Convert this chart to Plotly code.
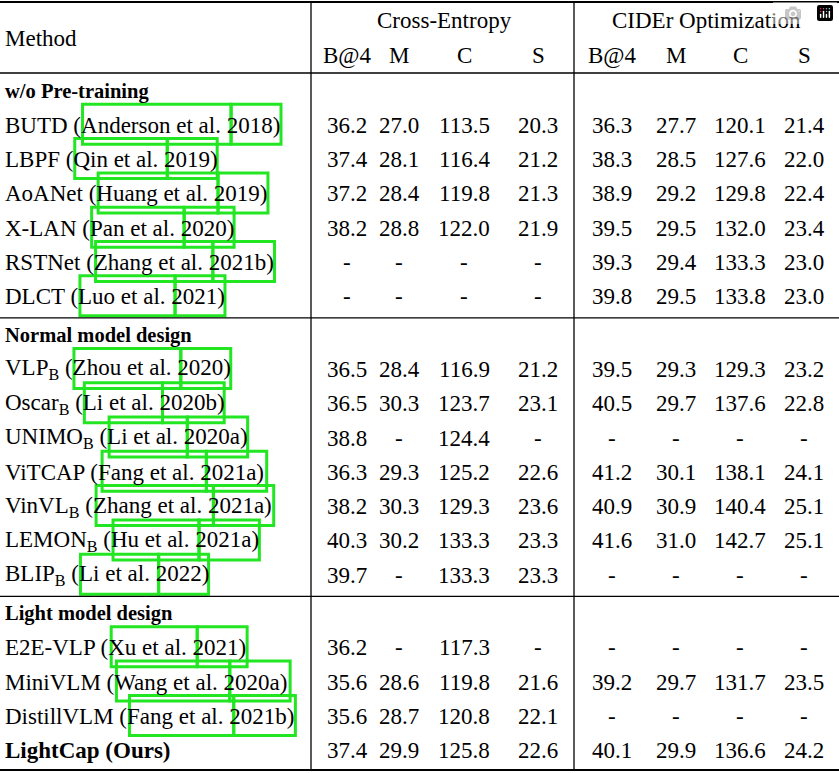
import plotly.graph_objects as go

groups = ["w/o Pre-training", "Normal model design", "Light model design"]
methods = [
    ["BUTD", "", "Anderson et al.", "2018"], ["LBPF", "", "Qin et al.", "2019"],
    ["AoANet", "", "Huang et al.", "2019"], ["X-LAN", "", "Pan et al.", "2020"],
    ["RSTNet", "", "Zhang et al.", "2021b"], ["DLCT", "", "Luo et al.", "2021"],
    ["VLP", "B", "Zhou et al.", "2020"], ["Oscar", "B", "Li et al.", "2020b"],
    ["UNIMO", "B", "Li et al.", "2020a"], ["ViTCAP", "", "Fang et al.", "2021a"],
    ["VinVL", "B", "Zhang et al.", "2021a"], ["LEMON", "B", "Hu et al.", "2021a"],
    ["BLIP", "B", "Li et al.", "2022"],
    ["E2E-VLP", "", "Xu et al.", "2021"], ["MiniVLM", "", "Wang et al.", "2020a"],
    ["DistillVLM", "", "Fang et al.", "2021b"],
]
group_sizes = [6, 7, 3]
ours = "LightCap (Ours)"
metrics = ["B@4", "M", "C", "S"]
sections = ["Cross-Entropy", "CIDEr Optimization"]
values = [
    ["36.2", "27.0", "113.5", "20.3", "36.3", "27.7", "120.1", "21.4"],
    ["37.4", "28.1", "116.4", "21.2", "38.3", "28.5", "127.6", "22.0"],
    ["37.2", "28.4", "119.8", "21.3", "38.9", "29.2", "129.8", "22.4"],
    ["38.2", "28.8", "122.0", "21.9", "39.5", "29.5", "132.0", "23.4"],
    ["-", "-", "-", "-", "39.3", "29.4", "133.3", "23.0"],
    ["-", "-", "-", "-", "39.8", "29.5", "133.8", "23.0"],
    ["36.5", "28.4", "116.9", "21.2", "39.5", "29.3", "129.3", "23.2"],
    ["36.5", "30.3", "123.7", "23.1", "40.5", "29.7", "137.6", "22.8"],
    ["38.8", "-", "124.4", "-", "-", "-", "-", "-"],
    ["36.3", "29.3", "125.2", "22.6", "41.2", "30.1", "138.1", "24.1"],
    ["38.2", "30.3", "129.3", "23.6", "40.9", "30.9", "140.4", "25.1"],
    ["40.3", "30.2", "133.3", "23.3", "41.6", "31.0", "142.7", "25.1"],
    ["39.7", "-", "133.3", "23.3", "-", "-", "-", "-"],
    ["36.2", "-", "117.3", "-", "-", "-", "-", "-"],
    ["35.6", "28.6", "119.8", "21.6", "39.2", "29.7", "131.7", "23.5"],
    ["35.6", "28.7", "120.8", "22.1", "-", "-", "-", "-"],
]
ours_values = ["37.4", "29.9", "125.8", "22.6", "40.1", "29.9", "136.6", "24.2"]

FONT = "Liberation Serif"
FS = 23
W = {' ': 250, '(': 333, ')': 333, '.': 250, '-': 333,
     'a': 444, 'b': 500, 'c': 444, 'd': 500, 'e': 444, 'f': 333, 'g': 500, 'h': 500, 'i': 278,
     'j': 278, 'k': 500, 'l': 278, 'm': 778, 'n': 500, 'o': 500, 'p': 500, 'q': 500, 'r': 333,
     's': 389, 't': 278, 'u': 500, 'v': 500, 'w': 722, 'x': 500, 'y': 500, 'z': 444,
     'A': 722, 'B': 667, 'C': 667, 'D': 722, 'E': 611, 'F': 556, 'G': 722, 'H': 722, 'I': 333,
     'J': 389, 'K': 722, 'L': 611, 'M': 889, 'N': 722, 'O': 722, 'P': 556, 'Q': 722, 'R': 667,
     'S': 556, 'T': 611, 'U': 722, 'V': 722, 'W': 944, 'X': 722, 'Y': 722, 'Z': 611}

def tw(s, fs=FS):
    return sum(W.get(c, 500) for c in s) * fs / 1000.0 * 1.02

col_x = [347, 399, 464, 538, 612, 676, 740, 804]
sec_x = [444, 706]
X0 = 3
TXT_PAD = 3
PITCH = 34.3
GAP = 4
Y_FIRST = 91
GREEN = "#22e622"

ann, shapes = [], []
def text(x, y, s, anchor="center", size=FS, bold=False):
    ann.append(dict(x=x, y=y, text=f"<b>{s}</b>" if bold else s, showarrow=False,
                    xanchor=anchor, yanchor="middle", xref="x", yref="y",
                    font=dict(family=FONT, size=size, color="black")))
def line(x0, y0, x1, y1, w=1.3):
    shapes.append(dict(type="line", x0=x0, y0=y0, x1=x1, y1=y1, xref="x", yref="y",
                       line=dict(color="black", width=w)))

text(X0, 38, "Method", "left")
for sx, s in zip(sec_x, sections):
    text(sx, 20, s)
for i, cx in enumerate(col_x):
    text(cx, 55, metrics[i % 4])

idx = 0
mi = 0
sep_ys = []
for g, (gname, n) in enumerate(zip(groups, group_sizes)):
    y = Y_FIRST + PITCH * idx + GAP * g
    text(X0, y, gname, "left", size=20.5, bold=True)
    idx += 1
    for k in range(n):
        y = Y_FIRST + PITCH * idx + GAP * g
        name, sub, auth, year = methods[mi]
        label = name + (f"<sub>{sub}</sub>" if sub else "") + " (" + auth + " " + year + ")"
        text(X0, y, label, "left")
        a0 = X0 + TXT_PAD + tw(name) + tw(sub) * 0.7 + tw(" (")
        y0 = a0 + tw(auth + " ")
        y1 = y0 + tw(year)
        for bx0, bx1 in [(a0 - 1, y0 - 1), (y0 - 1, y1 + 2)]:
            shapes.append(dict(type="rect", x0=bx0, x1=bx1, y0=y - 21, y1=y + 19,
                               xref="x", yref="y", line=dict(color=GREEN, width=3)))
        for cx, v in zip(col_x, values[mi]):
            text(cx, y, v)
        mi += 1
        idx += 1
    sep_ys.append(Y_FIRST + PITCH * (idx - 0.5) + GAP * g + 4)

y = Y_FIRST + PITCH * idx + GAP * (len(groups) - 1)
text(X0, y, ours, "left", bold=True)
for cx, v in zip(col_x, ours_values):
    text(cx, y, v)

line(0, 2, 839, 2, 2)
line(0, 73, 839, 73)
for sy in sep_ys[:-1]:
    line(0, sy, 839, sy)
line(0, 770, 839, 770, 2)
line(311, 2, 311, 770)
line(574, 2, 574, 770)

fig = go.Figure()
fig.update_layout(width=839, height=773, margin=dict(l=0, r=0, t=0, b=0),
                  paper_bgcolor="white", plot_bgcolor="white",
                  xaxis=dict(range=[0, 839], visible=False, fixedrange=True),
                  yaxis=dict(range=[773, 0], visible=False, fixedrange=True),
                  annotations=ann, shapes=shapes, showlegend=False)
fig.write_html("out.html", post_script="document.body.style.margin='0';document.body.style.overflow='hidden';")
